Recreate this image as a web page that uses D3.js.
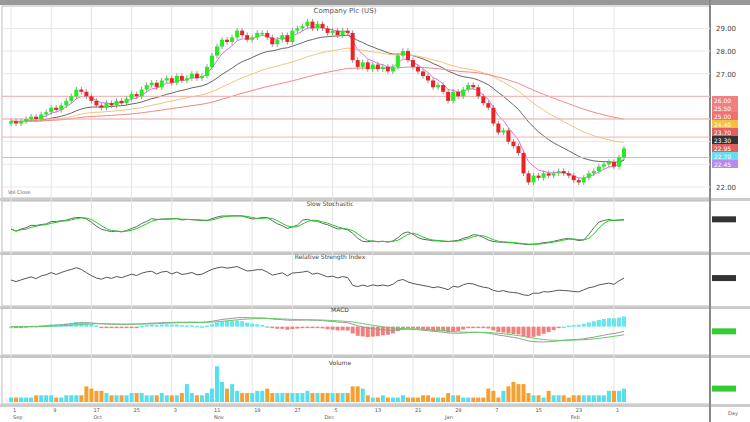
<!DOCTYPE html><html><head><meta charset="utf-8">
<script src="https://cdn.jsdelivr.net/npm/d3@7"></script>
<style>body{margin:0;background:#fff}svg{display:block;font-family:"DejaVu Sans",sans-serif}</style></head><body>
<svg id="c" width="750" height="422"></svg>
<script>
const closes=[24.9,24.8,24.9,25.0,25.1,25.0,25.2,25.3,25.5,25.4,25.6,25.8,26.0,26.3,26.2,
26.0,25.8,25.6,25.5,25.7,25.6,25.8,25.7,
25.9,26.1,26.0,26.3,26.5,26.6,
26.4,26.7,26.8,26.6,26.9,26.7,26.8,27.0,26.8,26.9,
27.3,27.8,28.2,28.5,28.4,
28.6,28.9,28.7,28.5,28.6,28.8,28.8,
28.6,28.3,28.5,28.7,28.4,28.9,29.0,29.1,
29.3,29.0,29.2,29.0,28.8,28.9,28.7,28.9,28.8,
27.6,27.3,27.5,27.2,27.4,27.2,27.3,27.1,27.3,
27.8,28.0,27.6,27.3,27.1,26.9,26.7,26.4,26.5,26.2,
25.8,26.2,26.0,26.3,26.5,26.4,
26.0,25.7,25.5,24.8,24.4,24.5,
24.0,23.8,23.5,22.6,22.2,
22.5,22.4,22.6,22.5,22.6,22.7,22.6,
22.5,22.3,22.2,22.4,
22.6,22.7,22.9,23.0,23.1,22.9,23.3,23.7];
const volumes=[2,2,2,2,2,3,3,3,3,2,2,3,3,3,3,
7,6,5,5,4,3,3,3,
3,4,4,4,3,3,
3,4,3,3,3,4,8,4,3,3,
4,6,16,9,6,
8,5,4,4,4,5,5,
6,4,4,4,4,4,4,4,
5,4,4,4,4,4,4,4,4,
7,7,6,3,2,2,3,2,2,
2,3,2,2,2,3,3,2,2,2,
4,3,3,2,2,2,
2,2,6,5,2,5,
7,9,8,8,4,
3,3,2,5,3,3,3,
2,3,3,3,
3,3,3,3,5,5,5,6];
const months=["Sep","Oct","Nov","Dec","Jan","Feb"];
const monthIdx=[0,16,40,62,86,111];
const priceTicks=[22,23,24,25,26,27,28,29];
const labelValues=[26.00,25.50,25.00,24.40,23.70,23.30,22.95,22.70,22.45];
const title="Company Plc (US)";

const svg=d3.select("#c");
const n=closes.length;
const opens=closes.map((c,i)=>i?closes[i-1]:c-0.1);
const x=d3.scaleBand().domain(d3.range(n)).range([8,627]).padding(0.2);
const cx=i=>x(i)+x.bandwidth()/2;
const W=710;
svg.append("rect").attr("x",0).attr("y",0).attr("width",750).attr("height",422).attr("fill","#fff");
const panels=[[6,198],[201,252],[254,306],[308,355],[357,404]];
panels.forEach(([a,b])=>{svg.append("rect").attr("x",2).attr("y",a).attr("width",W-2).attr("height",b-a).attr("fill","none").attr("stroke","#bbb");
 svg.append("rect").attr("x",0).attr("y",b).attr("width",750).attr("height",3).attr("fill","#ccc");});
svg.append("rect").attr("x",0).attr("y",0).attr("width",750).attr("height",5).attr("fill","#999");
svg.append("line").attr("x1",W).attr("x2",W).attr("y1",0).attr("y2",422).attr("stroke","#888").attr("stroke-width",2);
const vg=d3.range(0,n,8);
vg.forEach(i=>svg.append("line").attr("x1",cx(i)).attr("x2",cx(i)).attr("y1",6).attr("y2",404).attr("stroke","#e4e4e4"));
const y=d3.scaleLinear().domain([21.6,29.9]).range([196,8]);
priceTicks.forEach(t=>{svg.append("line").attr("x1",2).attr("x2",W).attr("y1",y(t)).attr("y2",y(t)).attr("stroke","#e8e8e8");
 if(t>=26.5||t<23) svg.append("text").attr("x",W+6).attr("y",y(t)+3).attr("font-size",7).attr("fill","#444").text(t.toFixed(2));});
function sma(a,p){return a.map((v,i)=>i<p-1?null:d3.mean(a.slice(i-p+1,i+1)));}
function ema(a,p){const k=2/(p+1);let e=a[0];return a.map(v=>e=v*k+e*(1-k));}
const mas=[[5,"#e070e0"],[20,"#666"],[40,"#f5c27a"],[80,"#e88"]];
mas.forEach(([p,c])=>{const m=ema(closes,p);
 svg.append("path").datum(m).attr("fill","none").attr("stroke",c).attr("stroke-width",1)
  .attr("d",d3.line().x((d,i)=>cx(i)).y(d=>y(d)));});
[26.0,25.0,24.2,23.3].forEach(v=>svg.append("line").attr("x1",2).attr("x2",W).attr("y1",y(v)).attr("y2",y(v)).attr("stroke","#f4b0b0").attr("stroke-width",1));
const g=svg.append("g");
closes.forEach((c,i)=>{const o=opens[i],up=c>=o,hi=Math.max(o,c)+0.12,lo=Math.min(o,c)-0.12;
 g.append("line").attr("x1",cx(i)).attr("x2",cx(i)).attr("y1",y(hi)).attr("y2",y(lo)).attr("stroke","#999");
 g.append("rect").attr("x",x(i)).attr("width",x.bandwidth()).attr("y",y(Math.max(o,c))).attr("height",Math.max(1.5,y(Math.min(o,c))-y(Math.max(o,c))))
  .attr("fill",up?"#22ee22":"#ee2222");});
svg.append("text").attr("x",345).attr("y",13).attr("text-anchor","middle").attr("font-size",7).attr("fill","#555").text(title);
const labColors=["#f08080","#f08080","#f07070","#f5c040","#e06060","#333","#e06060","#66ddee","#bb88ee"];
labelValues.forEach((v,j)=>{const yy=100+j*8;
 svg.append("rect").attr("x",W+2).attr("y",yy-4).attr("width",26).attr("height",8).attr("fill",labColors[j]);
 svg.append("text").attr("x",W+4).attr("y",yy+2.5).attr("font-size",6).attr("fill","#fff").text(v.toFixed(2));});
svg.append("text").attr("x",8).attr("y",194).attr("font-size",5).attr("fill","#666").text("Vol  Close");
const kRaw=closes.map((c,i)=>{const s=closes.slice(Math.max(0,i-13),i+1);const mn=d3.min(s)-0.4,mx=d3.max(s)+0.4;return 100*(c-mn)/(mx-mn);});
const k=sma(kRaw,3).map((v,i)=>v??kRaw[i]),dd=sma(k,3).map((v,i)=>v??k[i]);
const ys=d3.scaleLinear().domain([0,100]).range([248,210]);
[[k,"#666"],[dd,"#2c2"]].forEach(([a,c])=>svg.append("path").datum(a).attr("fill","none").attr("stroke",c).attr("d",d3.line().x((d,i)=>cx(i)).y(d=>ys(d))));
let ag=0.05,al=0.05;const rsi=closes.map((c,i)=>{if(!i)return 50;const ch=c-closes[i-1];ag=(ag*13+Math.max(ch,0))/14;al=(al*13+Math.max(-ch,0))/14;return 100-100/(1+ag/al);});
const yr=d3.scaleLinear().domain([0,100]).range([302,258]);
svg.append("path").datum(rsi).attr("fill","none").attr("stroke","#555").attr("d",d3.line().x((d,i)=>cx(i)).y(d=>yr(d)));
const e12=ema(closes,12),e26=ema(closes,26),macd=e12.map((v,i)=>v-e26[i]),sig=ema(macd,9),hist=macd.map((v,i)=>v-sig[i]);
const ym=d3.scaleLinear().domain([-2,1]).range([352,314]);
hist.forEach((h,i)=>svg.append("rect").attr("x",x(i)).attr("width",x.bandwidth()).attr("y",Math.min(ym(h*3),ym(0))).attr("height",Math.max(1.5,Math.abs(ym(h*3)-ym(0)))).attr("fill",h>=0?"#66e6f0":"#f08080"));
[[macd,"#999"],[sig,"#6c6"]].forEach(([a,c])=>svg.append("path").datum(a).attr("fill","none").attr("stroke",c).attr("d",d3.line().x((d,i)=>cx(i)).y(d=>ym(d))));
const yv=d3.scaleLinear().domain([0,17]).range([402,364]);
volumes.forEach((v,i)=>svg.append("rect").attr("x",x(i)).attr("width",x.bandwidth()).attr("y",yv(v)).attr("height",yv(0)-yv(v)).attr("fill",closes[i]>=opens[i]?"#55e0ee":"#f5a030"));
[["Slow Stochastic",206],["Relative Strength Index",259],["MACD",312],["Volume",365]].forEach(([t,yy])=>svg.append("text").attr("x",t=="MACD"||t=="Volume"?340:330).attr("y",yy).attr("text-anchor","middle").attr("font-size",6).attr("fill","#444").text(t));
[[ys(k[n-1]),"#333"],[yr(rsi[n-1]),"#333"],[ym(macd[n-1]),"#3c3"],[yv(volumes[n-1]),"#3c3"]].forEach(([yy,c])=>svg.append("rect").attr("x",W+2).attr("y",yy-3).attr("width",24).attr("height",6).attr("fill",c));
vg.forEach(i=>svg.append("text").attr("x",cx(i)+2).attr("y",412).attr("font-size",5).attr("fill","#555").text((i%30)+1));
months.forEach((m,j)=>svg.append("text").attr("x",cx(monthIdx[j])+2).attr("y",419).attr("font-size",5).attr("fill","#555").text(m));
svg.append("text").attr("x",728).attr("y",415).attr("font-size",5).attr("fill","#555").text("Day");
</script></body></html>
